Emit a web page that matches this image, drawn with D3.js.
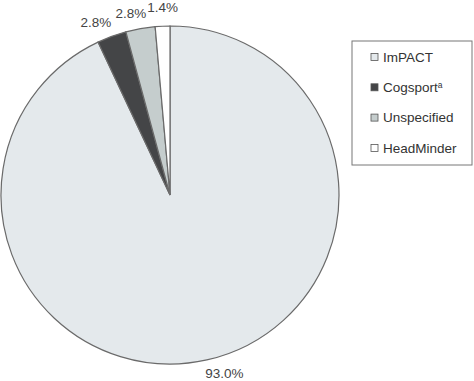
<!DOCTYPE html>
<html>
<head>
<meta charset="utf-8">
<script src="https://cdn.jsdelivr.net/npm/d3@7"></script>
<style>
  body { margin: 0; background: #fff; }
  text { font-family: "Liberation Sans", Arial, sans-serif; }
</style>
</head>
<body>
<div id="chart"></div>
<script>
// chart data
const categories = ["ImPACT", "Cogsport", "Unspecified", "HeadMinder"];
const shares = [93.0, 2.8, 2.8, 1.4];
const fills = ["#e4e9ec", "#444547", "#c5cdcd", "#ffffff"];

const width = 474, height = 381;
const cx = 170, cy = 195, radius = 169;

const svg = d3.select("#chart").append("svg")
    .attr("width", width)
    .attr("height", height);

const pie = d3.pie().sort(null).value(d => d.v);
const arcs = pie(categories.map((c, i) => ({ name: c, v: shares[i], fill: fills[i] })));
const arc = d3.arc().innerRadius(0).outerRadius(radius);

const g = svg.append("g").attr("transform", `translate(${cx},${cy})`);

g.selectAll("path.slice")
    .data(arcs)
    .enter().append("path")
    .attr("class", "slice")
    .attr("d", arc)
    .attr("fill", d => d.data.fill)
    .attr("stroke", "#6a6a6a")
    .attr("stroke-width", 1.2);

// percentage labels, pushed out from the rim (small nudges so they don't collide)
const labelRadius = [181, 183, 183, 190];
const labelOffset = [ [15, 2], [-11, -1], [-7, -2], [1, 2] ];
g.selectAll("text.pct")
    .data(arcs)
    .enter().append("text")
    .attr("class", "pct")
    .attr("transform", (d, i) => {
        const a = (d.startAngle + d.endAngle) / 2;
        const r = labelRadius[i];
        return `translate(${Math.sin(a) * r + labelOffset[i][0]},${-Math.cos(a) * r + labelOffset[i][1]})`;
    })
    .attr("text-anchor", "middle")
    .attr("dy", "0.35em")
    .attr("font-size", 13.5)
    .attr("fill", "#444")
    .text(d => d.data.v.toFixed(1) + "%");

// legend
const legend = svg.append("g").attr("transform", "translate(352,41)");
legend.append("rect")
    .attr("width", 120)
    .attr("height", 124)
    .attr("fill", "#fff")
    .attr("stroke", "#777")
    .attr("stroke-width", 1);

const items = legend.selectAll("g.item")
    .data(arcs)
    .enter().append("g")
    .attr("class", "item")
    .attr("transform", (d, i) => `translate(19,${16 + i * 30.3})`);

items.append("rect")
    .attr("x", 0).attr("y", -3.5)
    .attr("width", 7).attr("height", 7)
    .attr("fill", d => d.data.fill)
    .attr("stroke", "#555")
    .attr("stroke-width", 0.8);

const labels = items.append("text")
    .attr("x", 12)
    .attr("dy", "0.36em")
    .attr("font-size", 13.5)
    .attr("fill", "#333")
    .text(d => d.data.name);

labels.filter(d => d.data.name === "Cogsport")
    .append("tspan")
    .attr("dy", "-0.45em")
    .attr("font-size", 8.5)
    .text("a");
</script>
</body>
</html>
